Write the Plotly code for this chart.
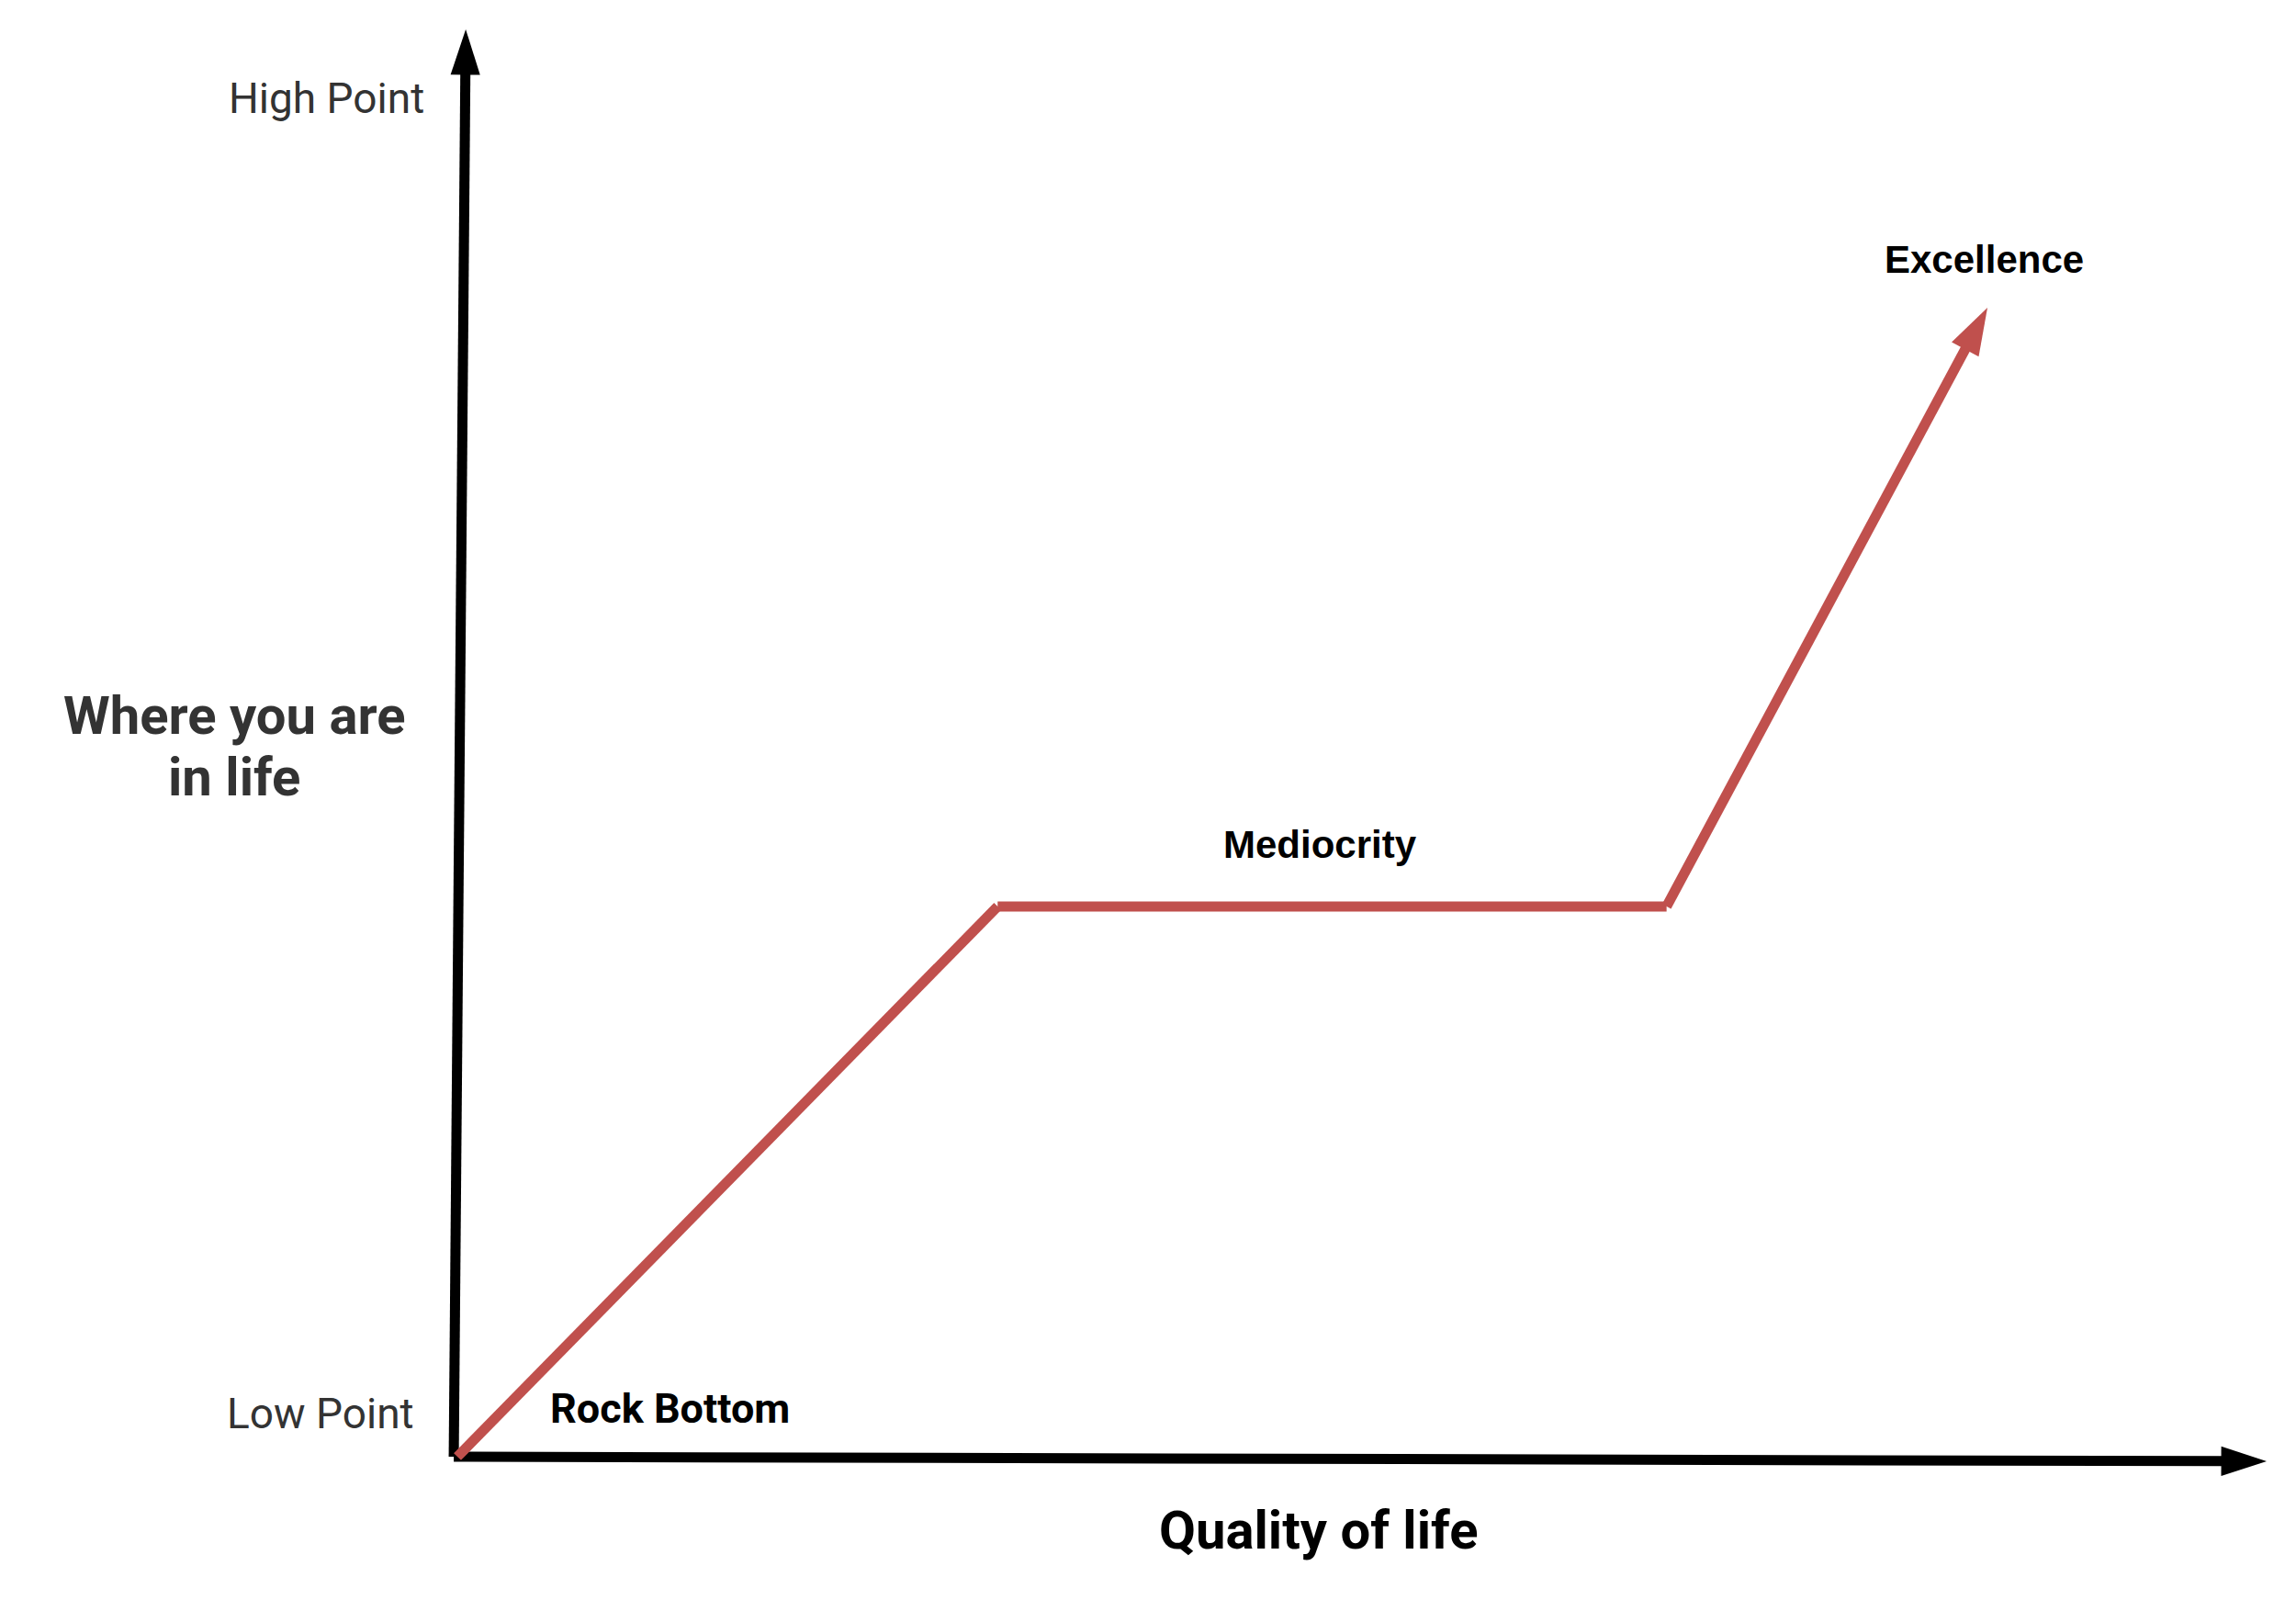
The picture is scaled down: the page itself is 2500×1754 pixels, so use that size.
import plotly.graph_objects as go

# Data (conceptual units: quality 0..10, level 0..10)
journey_x = [0.02, 3.0, 6.69, 8.46]
journey_y = [0.0, 3.855, 3.855, 8.05]

yaxis_line_x = [0.0, 0.066]
yaxis_line_y = [0.0, 10.0]
xaxis_line_x = [0.0, 10.0]
xaxis_line_y = [0.0, -0.032]

stage_labels = ["Rock Bottom", "Mediocrity", "Excellence"]
stage_x = [1.195, 4.78, 8.44]
stage_y = [0.335, 4.29, 8.39]

tick_labels = ["Low Point", "High Point"]
tick_y = [0.30, 9.52]
tick_x = [-0.21, -0.15]

RED = "#C0504D"

fig = go.Figure()

# axes as arrows
for xs, ys in [(yaxis_line_x, yaxis_line_y), (xaxis_line_x, xaxis_line_y)]:
    fig.add_trace(go.Scatter(
        x=xs, y=ys, mode="lines+markers",
        line=dict(color="black", width=11),
        marker=dict(symbol="arrow", angleref="previous", size=[0, 52], color="black",
                    opacity=1, line=dict(width=0)),
        hoverinfo="skip", showlegend=False,
    ))

# journey line
fig.add_trace(go.Scatter(
    x=journey_x, y=journey_y, mode="lines+markers",
    line=dict(color=RED, width=11),
    marker=dict(symbol="arrow", angleref="previous",
                size=[0] * (len(journey_x) - 1) + [54], color=RED,
                opacity=1, line=dict(width=0)),
    hoverinfo="skip", showlegend=False,
))

annotations = []
for t, x, y in zip(tick_labels, tick_x, tick_y):
    annotations.append(dict(x=x, y=y, xref="x", yref="y", text=t, showarrow=False,
                            xanchor="right", yanchor="middle",
                            font=dict(family="Roboto", size=46, color="#333333")))

stage_fonts = [
    dict(family="Roboto", size=45, color="black"),
    dict(family="Liberation Sans, Arial", size=42, color="black"),
    dict(family="Liberation Sans, Arial", size=42, color="black"),
]
for t, x, y, f in zip(stage_labels, stage_x, stage_y, stage_fonts):
    annotations.append(dict(x=x, y=y, xref="x", yref="y", text="<b>%s</b>" % t, showarrow=False,
                            xanchor="center", yanchor="middle", font=f))

ytitle_lines = ["Where you are", "in life"]
ytitle_y = [5.19, 4.76]
for t, y in zip(ytitle_lines, ytitle_y):
    annotations.append(dict(x=-1.21, y=y, xref="x", yref="y",
                            text="<b>%s</b>" % t, showarrow=False,
                            xanchor="center", yanchor="middle",
                            font=dict(family="Roboto", size=58, color="#333333")))
annotations.append(dict(x=4.77, y=-0.515, xref="x", yref="y",
                        text="<b>Quality of life</b>", showarrow=False,
                        xanchor="center", yanchor="middle",
                        font=dict(family="Roboto", size=58, color="black")))

fig.update_layout(
    width=2500, height=1754,
    margin=dict(l=0, r=0, t=0, b=0),
    paper_bgcolor="white", plot_bgcolor="white",
    xaxis=dict(range=[-2.503, 10.162], visible=False, fixedrange=True),
    yaxis=dict(range=[-1.081, 10.206], visible=False, fixedrange=True),
    annotations=annotations,
)

fig.write_html("out.html", config={"displayModeBar": False},
               post_script="document.body.style.margin='0';")
